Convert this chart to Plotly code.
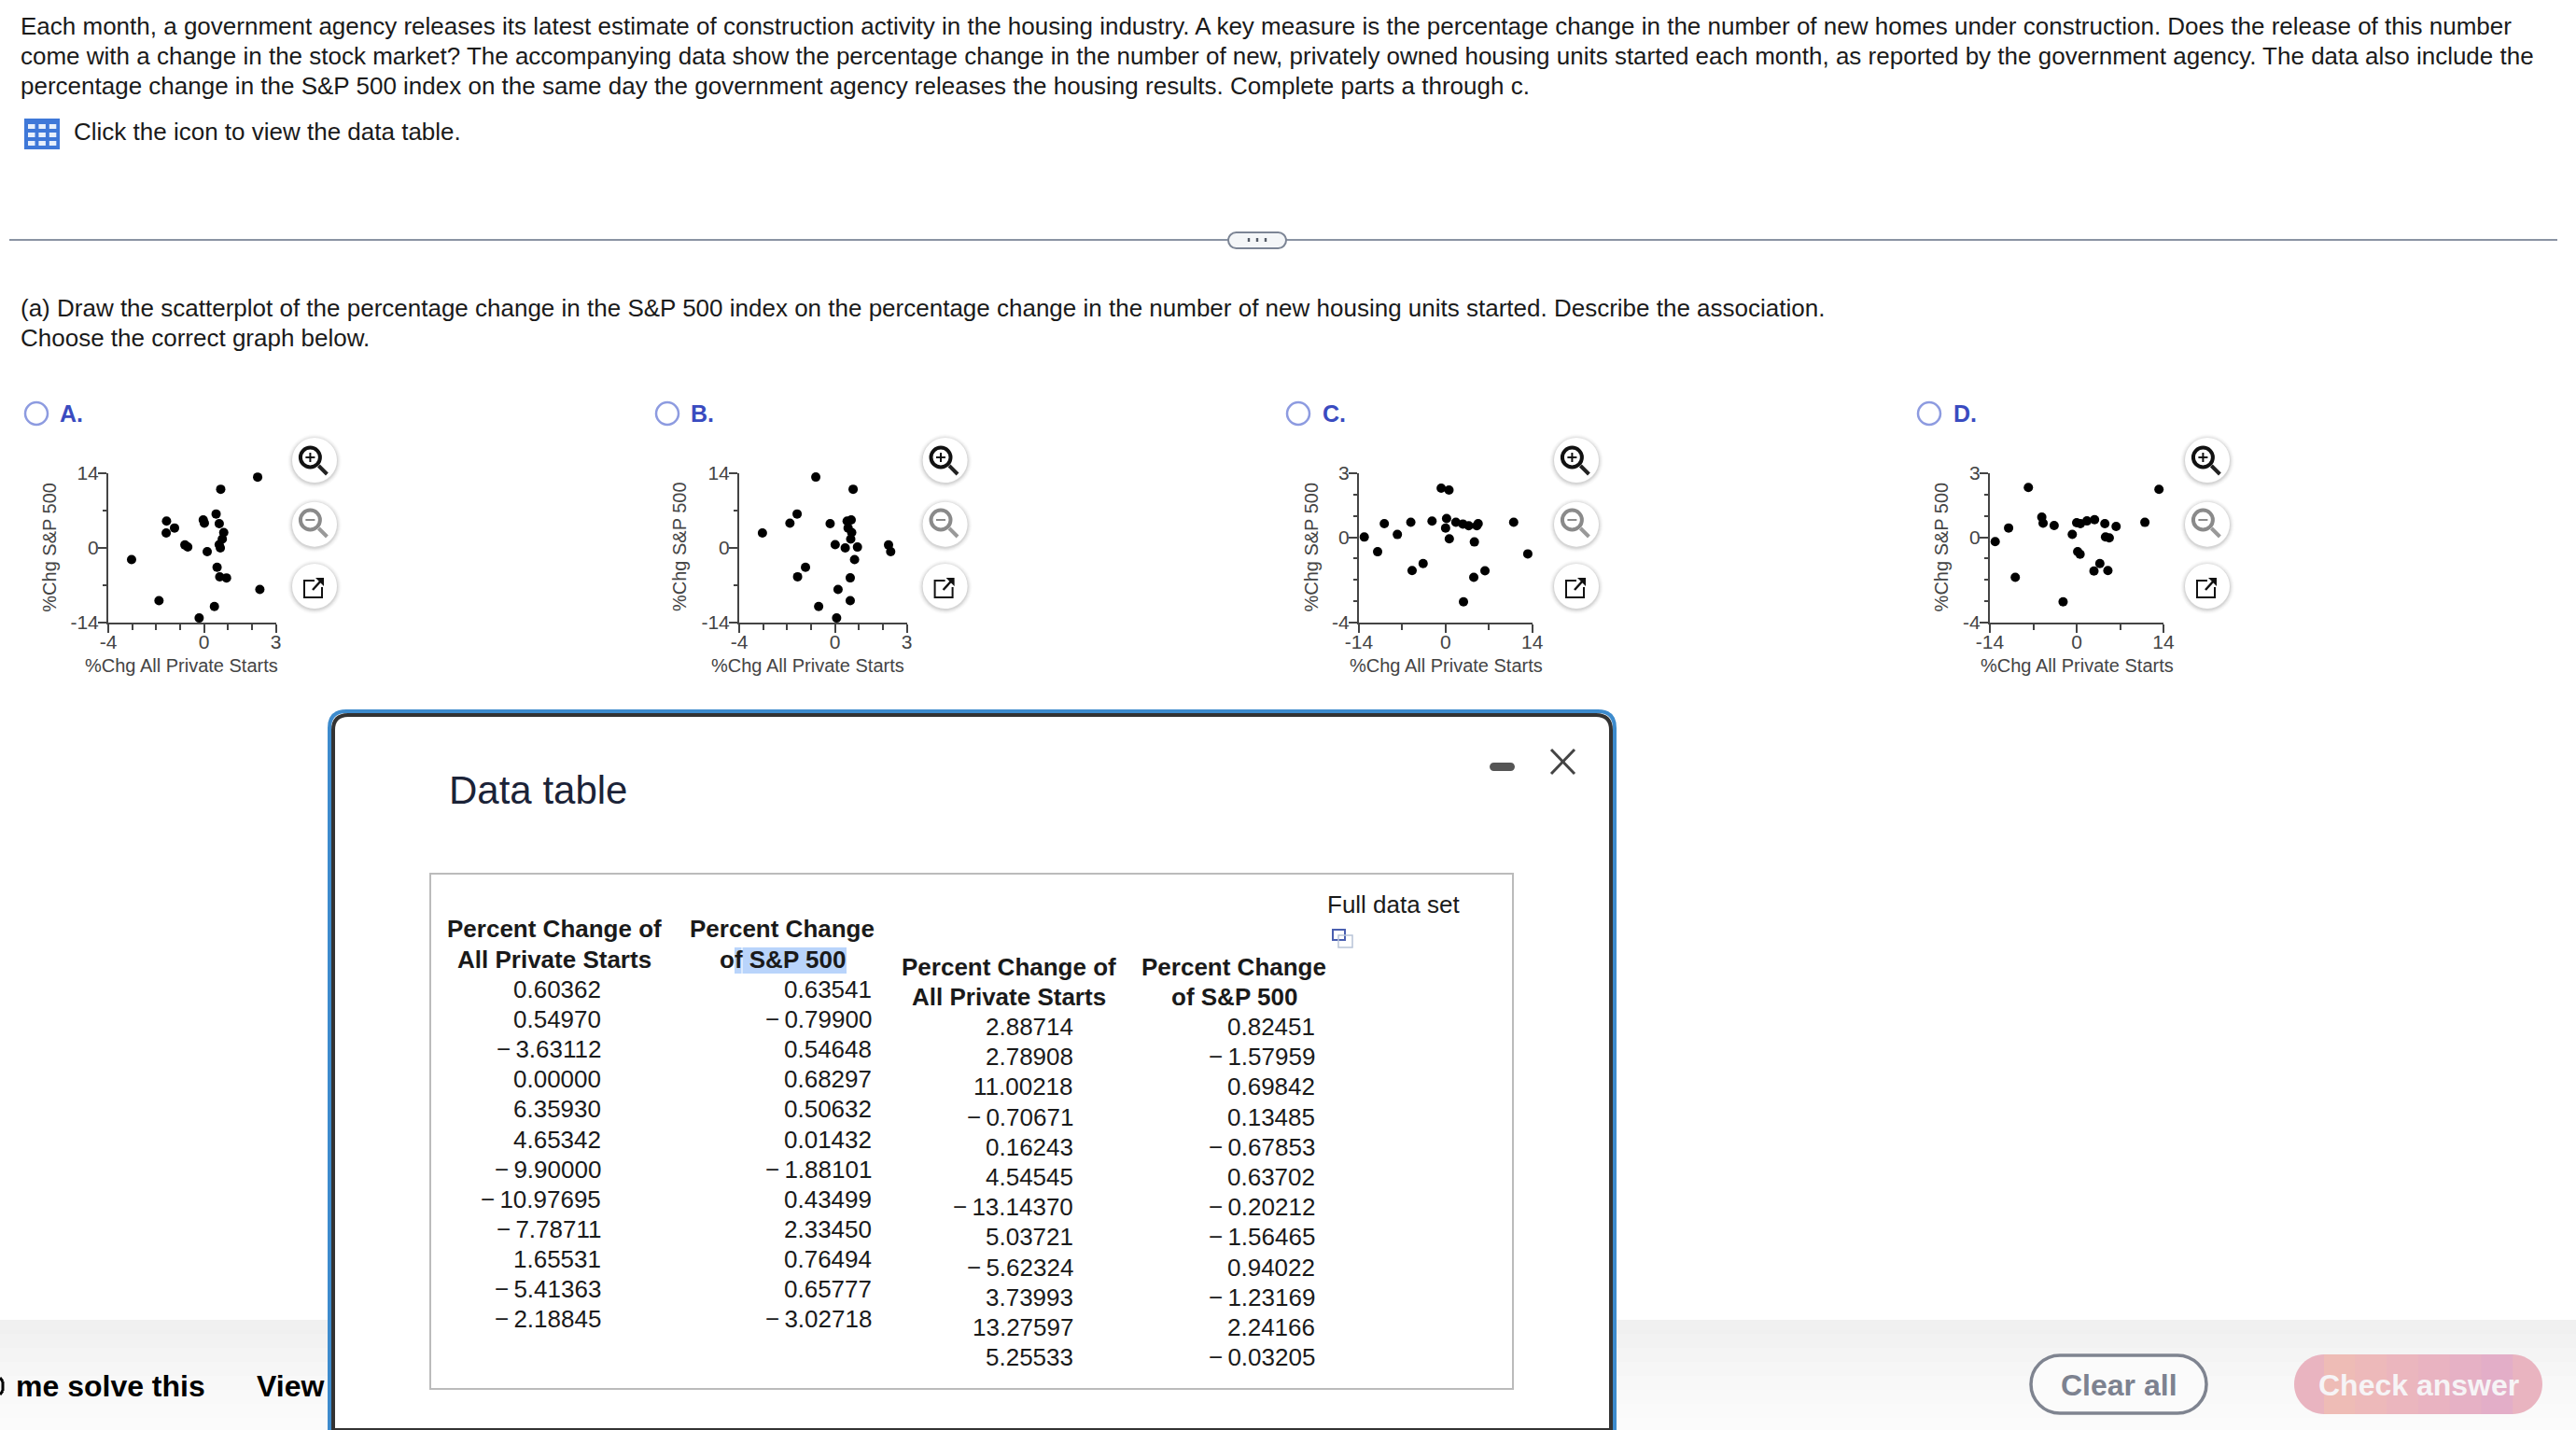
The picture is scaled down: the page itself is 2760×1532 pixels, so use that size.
import plotly.graph_objects as go

W = 2760
H = 1532

# values from the data table, in table order
starts = [0.60362, 0.54970, -3.63112, 0.00000, 6.35930, 4.65342, -9.90000, -10.97695, -7.78711, 1.65531, -5.41363, -2.18845,
          2.88714, 2.78908, 11.00218, -0.70671, 0.16243, 4.54545, -13.14370, 5.03721, -5.62324, 3.73993, 13.27597, 5.25533]
sp500 = [0.63541, -0.79900, 0.54648, 0.68297, 0.50632, 0.01432, -1.88101, 0.43499, 2.33450, 0.76494, 0.65777, -3.02718,
         0.82451, -1.57959, 0.69842, 0.13485, -0.67853, 0.63702, -0.20212, -1.56465, 0.94022, -1.23169, 2.24166, -0.03205]

# option B and C points
b_x = [-0.80, 0.76, -1.58, -1.88, -0.20, 0.68, 0.51, 0.55, -3.03, 0.70, 0.66, 0.01,
       2.24, 0.43, 0.94, 2.33, 0.82, -1.23, -1.56, 0.64, 0.13, 0.64, -0.68, 0.07]
b_y = [13.28, 11.00, 6.36, 4.65, 4.55, 5.26, 5.04, 3.74, 2.79, 2.89, 1.66, 0.60,
       0.55, 0.00, 0.16, -0.71, -2.19, -3.63, -5.41, -5.62, -7.79, -9.90, -10.98, -13.14]
c_x = [-13.14, -10.98, -9.90, -7.79, -5.62, -5.41, -3.63, -2.19, -0.71, 0.55, 0.16, 0.00,
       0.60, 1.66, 2.79, 3.74, 4.65, 4.55, 5.26, 5.04, 6.36, 2.89, 11.00, 13.28]
c_y = [0.01, -0.68, 0.64, 0.13, 0.70, -1.56, -1.23, 0.76, 2.30, 2.21, 0.88, 0.43,
       -0.07, 0.70, 0.62, 0.54, -0.22, -1.88, 0.64, 0.54, -1.57, -3.03, 0.70, -0.78]

x_ticks_small = [-4, 0, 3]
y_ticks_big = [-14, 0, 14]
x_ticks_big = [-14, 0, 14]
y_ticks_small = [-4, 0, 3]

intro_lines = [
    "Each month, a government agency releases its latest estimate of construction activity in the housing industry. A key measure is the percentage change in the number of new homes under construction. Does the release of this number",
    "come with a change in the stock market? The accompanying data show the percentage change in the number of new, privately owned housing units started each month, as reported by the government agency. The data also include the",
    "percentage change in the S&P 500 index on the same day the government agency releases the housing results. Complete parts a through c.",
]

FONT = "Liberation Sans, Arial, sans-serif"
shapes = []
notes = []


def px(x):
    return x / W


def py(y):
    return 1 - y / H


def text(x, y, s, size=26, color="#1a1a1a", bold=False, anchor="left", angle=0):
    if bold:
        s = "<b>" + s + "</b>"
    notes.append(dict(x=px(x), y=py(y), xref="paper", yref="paper", text=s, showarrow=False,
                      xanchor=anchor, yanchor="middle", textangle=angle, borderpad=0, borderwidth=0,
                      font=dict(family=FONT, size=size, color=color)))


def rect(x0, y0, x1, y1, fill=None, line=None, width=0):
    shapes.append(dict(type="rect", xref="paper", yref="paper", x0=px(x0), x1=px(x1), y0=py(y0), y1=py(y1),
                       fillcolor=fill if fill else "rgba(0,0,0,0)",
                       line=dict(color=line if line else "rgba(0,0,0,0)", width=width)))


def circle(cx, cy, r, fill=None, line=None, width=0):
    shapes.append(dict(type="circle", xref="paper", yref="paper", x0=px(cx - r), x1=px(cx + r), y0=py(cy - r), y1=py(cy + r),
                       fillcolor=fill if fill else "rgba(0,0,0,0)",
                       line=dict(color=line if line else "rgba(0,0,0,0)", width=width)))


def seg(x0, y0, x1, y1, color, width):
    shapes.append(dict(type="line", xref="paper", yref="paper", x0=px(x0), x1=px(x1), y0=py(y0), y1=py(y1),
                       line=dict(color=color, width=width)))


def pill(x0, y0, x1, y1, fill=None, line=None, width=0):
    # rounded bar, drawn in pixel coordinates of the page
    r = (y1 - y0) / 2
    k = 0.55 * r
    d = (f"M{px(x0 + r)},{py(y0)} L{px(x1 - r)},{py(y0)} "
         f"C{px(x1 - r + k)},{py(y0)} {px(x1)},{py(y0 + r - k)} {px(x1)},{py(y0 + r)} "
         f"C{px(x1)},{py(y0 + r + k)} {px(x1 - r + k)},{py(y1)} {px(x1 - r)},{py(y1)} "
         f"L{px(x0 + r)},{py(y1)} "
         f"C{px(x0 + r - k)},{py(y1)} {px(x0)},{py(y0 + r + k)} {px(x0)},{py(y0 + r)} "
         f"C{px(x0)},{py(y0 + r - k)} {px(x0 + r - k)},{py(y0)} {px(x0 + r)},{py(y0)} Z")
    shapes.append(dict(type="path", xref="paper", yref="paper", path=d,
                       fillcolor=fill if fill else "rgba(0,0,0,0)",
                       line=dict(color=line if line else "rgba(0,0,0,0)", width=width)))


def num(v):
    if v < 0:
        return "\u2212\u2009" + f"{-v:.5f}"
    return f"{v:.5f}"


# question text
for i, line in enumerate(intro_lines):
    text(22, 28 + i * 32, line)
text(79, 141, "Click the icon to view the data table.")
text(22, 330, "(a) Draw the scatterplot of the percentage change in the S&P 500 index on the percentage change in the number of new housing units started. Describe the association.")
text(22, 362, "Choose the correct graph below.")

# table icon
rect(26, 127, 64, 160, fill="#3f78d8")
for r in range(3):
    for c in range(3):
        rect(30 + c * 11.4, 133 + r * 9, 37.5 + c * 11.4, 138 + r * 9, fill="#e8f0fc")

# divider
seg(10, 257, 2740, 257, "#8a93a3", 2)
pill(1316, 249, 1378, 266, fill="#f4f6f8", line="#7c8595", width=2)
for dx in (-9, 0, 9):
    rect(1347 + dx - 1.2, 255, 1347 + dx + 1.2, 259, fill="#555c68")

# bottom bar
bar_cols = ["#f0f0f0", "#f2f2f2", "#f4f4f4", "#f6f6f6", "#f8f8f8", "#f9f9f9", "#fafafa", "#fbfbfb"]
for i, col in enumerate(bar_cols):
    rect(0, 1414 + i * 15, W, 1414 + (i + 1) * 15 + 1, fill=col)
text(17, 1485, "me solve this", size=32, color="#000000", bold=True)
seg(0, 1476, 3, 1480, "#000000", 3)
seg(3, 1480, 3, 1490, "#000000", 3)
seg(3, 1490, 0, 1494, "#000000", 3)
text(275, 1485, "View", size=32, color="#000000", bold=True)
pill(2176, 1452, 2364, 1514, fill="#fbfbfb", line="#7f8490", width=3.5)
text(2270, 1484, "Clear all", size=32, color="#7d8290", bold=True, anchor="center")
check_cols = ["#eebcb6", "#edb9ba", "#ebb6be", "#e9b3c1", "#e6b1c5", "#e3aec8"]
pill(2458, 1451, 2724, 1515, fill="#e9b4c0")
for i, col in enumerate(check_cols):
    rect(2490 + i * 33.7, 1451, 2490 + (i + 1) * 33.7, 1515, fill=col)
text(2591, 1484, "Check answer", size=32, color="#f6f4f6", bold=True, anchor="center")

# the four options
panels = [
    dict(label="A.", radio=39, lab=64, x0=116, x1=295.5, ytitle=52.7, xtitle=195, btn=337,
         xs=sp500, ys=starts, xr=x_ticks_small, yr=y_ticks_big, xminor=[-3, -2, -1, 1, 2], yminor=[-7, 7]),
    dict(label="B.", radio=715, lab=740, x0=792, x1=971.5, ytitle=728, xtitle=865, btn=1012.6,
         xs=b_x, ys=b_y, xr=x_ticks_small, yr=y_ticks_big, xminor=[-3, -2, -1, 1, 2], yminor=[-7, 7]),
    dict(label="C.", radio=1391, lab=1417, x0=1456, x1=1641.7, ytitle=1404.6, xtitle=1549, btn=1689,
         xs=c_x, ys=c_y, xr=x_ticks_big, yr=y_ticks_small, xminor=[-7, 7], yminor=[-3, -2, -1, 1, 2]),
    dict(label="D.", radio=2067, lab=2092.5, x0=2132, x1=2318, ytitle=2080.4, xtitle=2225, btn=2365,
         xs=starts, ys=sp500, xr=x_ticks_big, yr=y_ticks_small, xminor=[-7, 7], yminor=[-3, -2, -1, 1, 2]),
]

fig = go.Figure()
axes = {}
for n, p in enumerate(panels):
    suffix = "" if n == 0 else str(n + 1)
    fig.add_trace(go.Scatter(x=p["xs"], y=p["ys"], mode="markers", showlegend=False, cliponaxis=False,
                             marker=dict(color="#000000", size=10, line=dict(width=0)),
                             xaxis="x" + suffix, yaxis="y" + suffix))
    axes["xaxis" + suffix] = dict(domain=[px(p["x0"]), px(p["x1"])], range=[p["xr"][0], p["xr"][-1]], anchor="y" + suffix, automargin=False,
                                  tickvals=p["xr"], ticktext=[str(v) for v in p["xr"]], ticks="outside", ticklen=9, tickwidth=1.5, tickcolor="#444444",
                                  minor=dict(tickvals=p["xminor"], ticks="outside", ticklen=6, tickwidth=1.5, tickcolor="#444444"),
                                  ticklabelstandoff=-8,
                                  showgrid=False, zeroline=False, showline=True, linecolor="#444444", linewidth=2,
                                  tickfont=dict(family=FONT, size=21, color="#444444"))
    axes["yaxis" + suffix] = dict(domain=[py(667), py(507)], range=[p["yr"][0], p["yr"][-1]], anchor="x" + suffix, automargin=False,
                                  tickvals=p["yr"], ticktext=[str(v) for v in p["yr"]], ticks="outside", ticklen=9, tickwidth=1.5, tickcolor="#444444",
                                  minor=dict(tickvals=p["yminor"], ticks="outside", ticklen=4, tickwidth=1.5, tickcolor="#444444"),
                                  ticklabelstandoff=-5,
                                  showgrid=False, zeroline=False, showline=True, linecolor="#444444", linewidth=2,
                                  tickfont=dict(family=FONT, size=21, color="#444444"))
    text(p["xtitle"], 713, "%Chg All Private Starts", size=20, color="#444444", anchor="center")
    text(p["ytitle"], 586, "%Chg S&P 500", size=20, color="#444444", anchor="center", angle=-90)
    circle(p["radio"], 443, 12, fill="#ffffff", line="#8d9be0", width=2.5)
    text(p["lab"], 443, p["label"], size=25, color="#3a4bc0", bold=True)

    # zoom and share buttons
    b = p["btn"]
    for cy in (493, 561.7, 628):
        for r, a in ((29, 0.015), (28, 0.02), (27, 0.03), (26, 0.04), (25, 0.06)):
            circle(b, cy + 1, r, fill=f"rgba(0,0,0,{a})")
        circle(b, cy, 24, fill="#ffffff")
    circle(b - 4.6, 490, 10.5, fill="#ffffff", line="#111111", width=4)
    seg(b + 4.4, 499, b + 13.4, 508, "#222222", 4)
    seg(b - 9.6, 490, b + 0.4, 490, "#111111", 2)
    seg(b - 4.6, 485, b - 4.6, 495, "#111111", 2)
    circle(b - 4.6, 557, 10.5, fill="#ffffff", line="#8a8a8a", width=4)
    seg(b + 4.4, 566, b + 13.4, 575, "#999999", 4)
    seg(b - 9.6, 557, b + 0.4, 557, "#8a8a8a", 2)
    shapes.append(dict(type="path", xref="paper", yref="paper", line=dict(color="#111111", width=2),
                       path=f"M{px(b)},{py(622)} L{px(b - 11)},{py(622)} L{px(b - 11)},{py(640)} L{px(b + 8)},{py(640)} L{px(b + 8)},{py(629)}"))
    seg(b - 2, 632, b + 7, 622, "#111111", 2.5)
    shapes.append(dict(type="path", xref="paper", yref="paper", fillcolor="#111111", line=dict(width=0),
                       path=f"M{px(b + 1)},{py(619)} L{px(b + 10)},{py(619)} L{px(b + 10)},{py(628)} Z"))

# data table window
shapes.append(dict(type="path", xref="paper", yref="paper", fillcolor="#ffffff", line=dict(color="#3d8bcd", width=4),
                   path=f"M{px(353)},{py(1532)} L{px(353)},{py(780)} Q{px(353)},{py(762)} {px(371)},{py(762)} "
                        f"L{px(1712)},{py(762)} Q{px(1730)},{py(762)} {px(1730)},{py(780)} L{px(1730)},{py(1532)} Z"))
shapes.append(dict(type="path", xref="paper", yref="paper", fillcolor="#ffffff", line=dict(color="#333333", width=4),
                   path=f"M{px(357)},{py(1532)} L{px(357)},{py(782)} Q{px(357)},{py(766)} {px(373)},{py(766)} "
                        f"L{px(1710)},{py(766)} Q{px(1726)},{py(766)} {px(1726)},{py(782)} L{px(1726)},{py(1532)} Z"))
text(481, 847, "Data table", size=42, color="#1b2338")
pill(1596, 817, 1623, 826, fill="#555555")
seg(1662, 803, 1687, 829, "#444444", 3)
seg(1687, 803, 1662, 829, "#444444", 3)
rect(461, 936, 1621, 1488, fill="#ffffff", line="#bbbbbb", width=2)
text(1422, 969, "Full data set", size=26, color="#1a1a1a")
rect(1428, 996, 1441, 1007, fill="#ffffff", line="#4a5fb0", width=2)
rect(1434, 1002, 1449, 1015, line="#b8c4d8", width=1.5)

rect(787, 1015, 907, 1043, fill="#b9d4fb")
rect(794.5, 1015, 795.5, 1043, fill="#ffffff")
text(594, 995, "Percent Change of", bold=True, anchor="center")
text(594, 1028, "All Private Starts", bold=True, anchor="center")
text(838, 995, "Percent Change", bold=True, anchor="center")
text(838, 1028, "of S&P 500", bold=True, anchor="center")
text(1081, 1036, "Percent Change of", bold=True, anchor="center")
text(1081, 1068, "All Private Starts", bold=True, anchor="center")
text(1322, 1036, "Percent Change", bold=True, anchor="center")
text(1322, 1068, "of S&P 500", bold=True, anchor="center")
for i in range(12):
    text(644, 1060 + i * 32.1, num(starts[i]), anchor="right")
    text(934, 1060 + i * 32.1, num(sp500[i]), anchor="right")
    text(1150, 1100 + i * 32.2, num(starts[i + 12]), anchor="right")
    text(1409, 1100 + i * 32.2, num(sp500[i + 12]), anchor="right")

fig.update_layout(width=W, height=H, margin=dict(l=0, r=0, t=0, b=0), autosize=False,
                  paper_bgcolor="#ffffff", plot_bgcolor="#ffffff", showlegend=False,
                  shapes=shapes, annotations=notes, **axes)
# the page body has a default margin that would shift everything by 8px
fig.write_html("out.html", config={"displayModeBar": False}, post_script="document.body.style.margin='0';")
